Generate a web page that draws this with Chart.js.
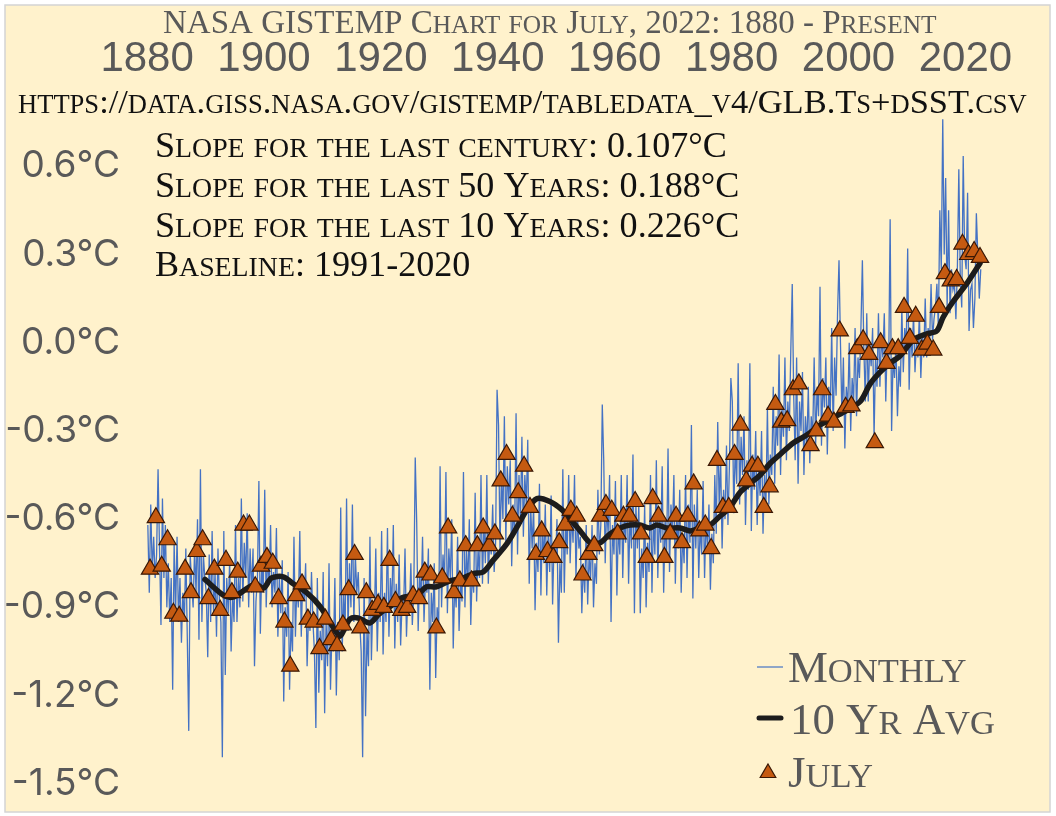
<!DOCTYPE html>
<html><head><meta charset="utf-8">
<script src="https://cdn.jsdelivr.net/npm/chart.js@4"></script>
<style>html,body{margin:0;padding:0;background:#fff}canvas{display:block}</style>
</head><body>
<canvas id="c" width="1056" height="816" style="width:1056px;height:816px"></canvas>
<script>
// ---------- data ----------
const xTickYears = [1880, 1900, 1920, 1940, 1960, 1980, 2000, 2020];
const yTickValues = [-1.5, -1.2, -0.9, -0.6, -0.3, 0.0, 0.3, 0.6];

const julyStartYear = 1880;
const julyValues = [
 -0.77,-0.595,-0.76,-0.67,-0.92,-0.93,-0.77,-0.85,-0.71,-0.67,
 -0.87,-0.77,-0.91,-0.74,-0.85,-0.78,-0.62,-0.62,-0.83,-0.76,
 -0.73,-0.75,-0.87,-0.95,-1.10,-0.86,-0.82,-0.94,-0.95,-1.04,
 -0.94,-1.01,-1.03,-0.96,-0.84,-0.72,-0.97,-0.85,-0.91,-0.89,
 -0.90,-0.74,-0.88,-0.91,-0.90,-0.86,-0.87,-0.78,-0.79,-0.97,
 -0.80,-0.63,-0.85,-0.81,-0.69,-0.81,-0.69,-0.63,-0.69,-0.65,
 -0.47,-0.38,-0.59,-0.51,-0.42,-0.56,-0.72,-0.64,-0.71,-0.73,
 -0.68,-0.62,-0.57,-0.59,-0.79,-0.72,-0.69,-0.59,-0.55,-0.57,
 -0.65,-0.59,-0.59,-0.54,-0.65,-0.73,-0.53,-0.59,-0.73,-0.65,
 -0.59,-0.68,-0.59,-0.48,-0.64,-0.62,-0.70,-0.40,-0.56,-0.56,
 -0.38,-0.28,-0.47,-0.42,-0.42,-0.56,-0.49,-0.21,-0.27,-0.265,
 -0.16,-0.14,null,-0.35,-0.30,-0.16,-0.25,-0.27,0.04,-0.22,
 -0.215,-0.02,0.01,-0.04,-0.34,0.00,-0.07,-0.02,-0.02,0.12,
 0.015,0.09,-0.025,-0.005,-0.025,0.12,0.235,0.21,0.215,0.335,
 0.30,0.31,0.29
];

const avgYears = [
 1889.9,1893.0,1894.5,1895.9,1898.5,1899.9,1901.3,1903.3,1905.0,1907.3,
 1909.6,1911.9,1913.0,1913.6,1914.7,1916.1,1918.1,1919.8,1921.6,1923.8,
 1926.1,1927.8,1929.5,1931.8,1934.1,1935.8,1937.5,1939.2,1941.5,1943.2,
 1944.9,1946.7,1948.9,1950.9,1952.4,1954.1,1955.8,1957.5,1959.2,1960.9,
 1962.6,1964.3,1966.0,1967.2,1968.9,1971.2,1972.9,1974.6,1976.3,1978.0,
 1979.7,1981.4,1983.1,1984.9,1986.6,1988.3,1990.6,1992.8,1995.1,1997.4,
 1999.7,2002.0,2003.7,2005.4,2007.1,2008.8,2011.1,2013.4,2015.1,2016.2,
 2017.9,2020.2,2022.5
];
const avgValues = [
 -0.805,-0.858,-0.866,-0.852,-0.82,-0.835,-0.80,-0.796,-0.82,-0.85,
 -0.897,-0.97,-0.998,-0.98,-0.94,-0.936,-0.953,-0.92,-0.897,-0.866,
 -0.86,-0.83,-0.83,-0.81,-0.80,-0.785,-0.78,-0.74,-0.685,-0.63,
 -0.57,-0.53,-0.54,-0.567,-0.60,-0.64,-0.68,-0.68,-0.65,-0.63,
 -0.62,-0.62,-0.63,-0.62,-0.63,-0.63,-0.64,-0.63,-0.62,-0.59,
 -0.56,-0.51,-0.48,-0.45,-0.41,-0.38,-0.34,-0.315,-0.28,-0.255,
 -0.23,-0.20,-0.14,-0.10,-0.07,-0.045,0.01,0.03,0.04,0.087,
 0.14,0.20,0.27
];

// monthly anomalies, read as four values per year (one row per year)
const monthly1880s = [
 [-0.62,-0.85,-0.55,-0.78],[-0.66,-0.80,-0.72,-0.43],[-0.70,-0.96,-0.53,-0.80],[-0.62,-0.90,-0.75,-0.95],
 [-0.80,-1.18,-0.68,-0.92],[-0.66,-0.95,-0.80,-1.02],[-0.85,-0.95,-0.70,-1.00],[-1.32,-0.72,-0.82,-0.90],
 [-0.70,-0.85,-0.60,-1.01],[-0.43,-0.95,-0.72,-0.80]];
const monthly1890s = [
 [-0.85,-1.07,-0.72,-0.95],[-0.64,-0.92,-0.78,-1.00],[-0.70,-0.88,-0.95,-1.41],[-0.64,-1.13,-0.80,-0.92],
 [-0.74,-1.05,-0.86,-0.95],[-0.62,-0.95,-0.80,-0.90],[-0.53,-0.88,-0.68,-0.80],[-0.58,-0.90,-0.70,-0.85],
 [-0.70,-1.10,-0.88,-0.80],[-0.47,-0.99,-0.75,-0.85]];
const monthly1900s = [
 [-0.50,-0.90,-0.72,-0.82],[-0.62,-0.90,-0.78,-0.85],[-0.63,-1.00,-0.80,-0.92],[-0.74,-1.22,-0.90,-1.00],
 [-0.78,-1.18,-0.95,-1.05],[-0.66,-1.00,-0.82,-0.90],[-0.64,-1.00,-0.80,-0.88],[-0.75,-1.10,-0.92,-0.98],
 [-0.78,-0.95,-1.05,-1.31],[-0.80,-1.19,-0.98,-1.08]];
const monthly1910s = [
 [-0.78,-1.26,-0.95,-1.10],[-0.75,-1.18,-0.98,-1.05],[-0.80,-1.20,-0.95,-1.08],[-0.56,-1.05,-0.85,-0.98],
 [-0.53,-0.98,-0.75,-0.90],[-0.55,-0.95,-0.72,-0.85],[-0.78,-0.95,-1.05,-1.41],[-0.80,-1.27,-0.98,-1.10],
 [-0.66,-1.08,-0.88,-0.95],[-0.70,-1.05,-0.85,-0.95]];
const monthly1920s = [
 [-0.64,-1.06,-0.85,-0.95],[-0.63,-1.00,-0.80,-0.90],[-0.62,-1.04,-0.82,-0.95],[-0.72,-1.03,-0.88,-0.92],
 [-0.70,-1.00,-0.85,-0.92],[-0.75,-0.96,-0.85,-0.39],[-0.61,-0.98,-0.78,-0.88],[-0.66,-0.95,-0.80,-0.85],
 [-0.70,-1.18,-0.85,-0.95],[-0.75,-1.14,-0.90,-0.98]];
const monthly1930s = [
 [-0.42,-0.90,-0.72,-0.82],[-0.44,-0.92,-0.70,-0.80],[-0.60,-1.04,-0.82,-0.90],[-0.66,-0.98,-0.80,-0.88],
 [-0.44,-0.90,-0.70,-0.82],[-0.60,-0.96,-0.78,-0.85],[-0.51,-0.88,-0.70,-0.80],[-0.45,-0.82,-0.62,-0.75],
 [-0.45,-0.82,-0.65,-0.72],[-0.55,-0.78,-0.68,-0.16]];
const monthly1940s = [
 [-0.28,-0.70,-0.45,-0.60],[-0.25,-0.68,-0.42,-0.55],[-0.40,-0.76,-0.55,-0.65],[-0.24,-0.72,-0.45,-0.60],
 [-0.32,-0.66,-0.45,-0.55],[-0.33,-0.82,-0.55,-0.70],[-0.55,-0.91,-0.68,-0.78],[-0.48,-0.86,-0.62,-0.75],
 [-0.55,-0.86,-0.65,-0.78],[-0.52,-0.89,-0.68,-0.75]];
const monthly1950s = [
 [-0.60,-1.02,-0.75,-0.85],[-0.43,-0.85,-0.60,-0.72],[-0.45,-0.75,-0.58,-0.68],[-0.45,-0.80,-0.58,-0.70],
 [-0.66,-0.92,-0.75,-0.85],[-0.62,-0.89,-0.72,-0.80],[-0.62,-0.90,-0.75,-0.82],[-0.50,-0.72,-0.62,-0.21],
 [-0.40,-0.75,-0.55,-0.65],[-0.45,-0.95,-0.62,-0.72]];
const monthly1960s = [
 [-0.47,-0.86,-0.62,-0.72],[-0.45,-0.80,-0.58,-0.68],[-0.45,-0.82,-0.58,-0.70],[-0.38,-0.92,-0.55,-0.70],
 [-0.55,-0.92,-0.70,-0.80],[-0.55,-0.90,-0.68,-0.78],[-0.45,-0.85,-0.60,-0.72],[-0.40,-0.80,-0.58,-0.68],
 [-0.42,-0.85,-0.60,-0.72],[-0.36,-0.78,-0.55,-0.65]];
const monthly1970s = [
 [-0.45,-0.82,-0.58,-0.70],[-0.50,-0.85,-0.65,-0.75],[-0.45,-0.80,-0.55,-0.68],[-0.28,-0.87,-0.55,-0.70],
 [-0.50,-0.80,-0.62,-0.72],[-0.47,-0.80,-0.60,-0.70],[-0.55,-0.84,-0.65,-0.75],[-0.45,-0.65,-0.27,-0.55],
 [-0.40,-0.70,-0.50,-0.60],[-0.35,-0.62,-0.42,-0.12]];
const monthly1980s = [
 [-0.20,-0.58,-0.35,-0.48],[-0.07,-0.55,-0.32,-0.45],[-0.25,-0.62,-0.40,-0.50],[-0.07,-0.64,-0.38,-0.50],
 [-0.30,-0.62,-0.42,-0.52],[-0.30,-0.65,-0.45,-0.55],[-0.22,-0.55,-0.38,-0.45],[-0.15,-0.48,-0.25,-0.35],
 [-0.04,-0.45,-0.22,-0.32],[-0.05,-0.40,-0.20,-0.30]];
const monthly1990s = [
 [-0.03,0.20,-0.18,-0.40],[-0.05,-0.48,-0.20,-0.30],[-0.10,-0.45,-0.25,-0.35],[-0.15,-0.41,-0.25,-0.32],
 [-0.05,-0.35,-0.15,-0.25],[0.19,-0.35,-0.12,-0.22],[-0.05,-0.38,-0.15,-0.25],[0.05,-0.30,-0.05,-0.18],
 [0.10,0.28,0.00,-0.25],[-0.05,-0.36,-0.15,-0.22]];
const monthly2000s = [
 [0.00,-0.30,-0.12,-0.20],[0.05,-0.25,-0.05,-0.12],[0.05,0.28,-0.02,-0.20],[0.10,-0.20,0.00,-0.08],
 [0.05,-0.32,-0.05,-0.15],[0.10,-0.15,0.02,-0.05],[0.10,-0.20,0.00,-0.08],[0.42,-0.30,-0.05,-0.12],
 [0.00,-0.25,-0.08,-0.15],[0.12,-0.10,0.05,-0.02]];
const monthly2010s = [
 [0.32,-0.16,0.05,-0.05],[0.10,-0.10,0.00,-0.05],[0.10,-0.12,0.02,-0.05],[0.15,-0.05,0.05,0.00],
 [0.20,0.01,0.08,0.12],[0.20,0.05,0.45,0.25],[0.76,0.30,0.56,0.12],[0.45,0.10,0.25,0.18],
 [0.20,0.08,0.25,0.59],[0.22,0.12,0.635,0.30]];
const monthly2020s = [
 [0.25,0.51,0.04,0.18],[0.20,0.05,0.15,0.44],[0.30,0.15,0.25]];

const monthlyDecades = [
 [1880, monthly1880s],[1890, monthly1890s],[1900, monthly1900s],[1910, monthly1910s],
 [1920, monthly1920s],[1930, monthly1930s],[1940, monthly1940s],[1950, monthly1950s],
 [1960, monthly1960s],[1970, monthly1970s],[1980, monthly1980s],[1990, monthly1990s],
 [2000, monthly2000s],[2010, monthly2010s],[2020, monthly2020s]];

const titleText = 'NASA GISTEMP Chart for July, 2022: 1880 - Present';
const urlText = 'https://data.giss.nasa.gov/gistemp/tabledata_v4/GLB.Ts+dSST.csv';
const noteLines = [
 'Slope for the last century: 0.107°C',
 'Slope for the last 50 Years: 0.188°C',
 'Slope for the last 10 Years: 0.226°C',
 'Baseline: 1991-2020'];
const legendLabels = ['Monthly', '10 Yr Avg', 'July'];

// ---------- build points ----------
const monthlyPoints = [];
monthlyDecades.forEach(([start, rows]) => rows.forEach((row, i) =>
  row.forEach((v, q) => monthlyPoints.push({x: start + i + (q + 0.5) / 4, y: v}))));
const julyPoints = julyValues.map((v, i) => ({x: julyStartYear + i + 0.5, y: v}));
const avgPoints = avgYears.map((yr, i) => ({x: yr, y: avgValues[i]}));

// ---------- style ----------
const BG = '#FFF2CC';
const GRAY = '#595959';
const BLUE = '#4472C4';
const AVG = '#1c1c1c';
const TRI_FILL = '#C55A11';
const TRI_EDGE = '#3a1805';
const SERIF = '"Liberation Serif", "DejaVu Serif", serif';
const SC = 0.77;

function runsOf(text) {
  const runs = [];
  for (const ch of text) {
    const small = /[a-z]/.test(ch);
    const c = small ? ch.toUpperCase() : ch;
    if (runs.length && runs[runs.length - 1].small === small) runs[runs.length - 1].s += c;
    else runs.push({small, s: c});
  }
  return runs;
}
function scWidth(ctx, text, size) {
  let w = 0;
  for (const r of runsOf(text)) {
    ctx.font = (r.small ? size * SC : size) + 'px ' + SERIF;
    w += ctx.measureText(r.s).width;
  }
  return w;
}
function fitSize(ctx, text, width) { return 100 * width / scWidth(ctx, text, 100); }
function drawSC(ctx, text, x, y, size, color) {
  ctx.fillStyle = color; ctx.textAlign = 'left'; ctx.textBaseline = 'alphabetic';
  let cx = x;
  for (const r of runsOf(text)) {
    ctx.font = (r.small ? size * SC : size) + 'px ' + SERIF;
    ctx.fillText(r.s, cx, y);
    cx += ctx.measureText(r.s).width;
  }
}
function tri(ctx, x, y, r) {
  ctx.beginPath();
  for (let k = 0; k < 3; k++) {
    const a = -Math.PI / 2 + k * 2 * Math.PI / 3;
    const px = x + Math.cos(a) * r, py = y + Math.sin(a) * r;
    if (k === 0) ctx.moveTo(px, py); else ctx.lineTo(px, py);
  }
  ctx.closePath();
  ctx.fillStyle = TRI_FILL; ctx.fill();
  ctx.strokeStyle = TRI_EDGE; ctx.lineWidth = 1.2; ctx.stroke();
}

const decor = {
  id: 'decor',
  beforeDraw(chart) {
    const ctx = chart.ctx;
    ctx.save();
    ctx.fillStyle = '#ffffff'; ctx.fillRect(0, 0, chart.width, chart.height);
    ctx.fillStyle = BG; ctx.fillRect(5, 5, 1045, 807);
    ctx.strokeStyle = '#d4d4d4'; ctx.lineWidth = 1.5; ctx.strokeRect(5, 5, 1045, 807);
    ctx.restore();
  },
  afterDraw(chart) {
    const ctx = chart.ctx;
    ctx.save();
    drawSC(ctx, titleText, 163, 33, fitSize(ctx, titleText, 774), GRAY);
    drawSC(ctx, urlText, 18, 113, fitSize(ctx, urlText, 1009), '#111111');
    const ns = fitSize(ctx, noteLines[0], 572);
    const noteBase = [157, 197, 237, 276];
    noteLines.forEach((t, i) => drawSC(ctx, t, 155, noteBase[i], ns, '#111111'));
    const ls = fitSize(ctx, legendLabels[1], 205);
    ctx.lineCap = 'butt';
    ctx.strokeStyle = BLUE; ctx.lineWidth = 1.2;
    ctx.beginPath(); ctx.moveTo(757, 667); ctx.lineTo(783, 667); ctx.stroke();
    ctx.strokeStyle = AVG; ctx.lineWidth = 5; ctx.lineCap = 'round';
    ctx.beginPath(); ctx.moveTo(759, 718); ctx.lineTo(781, 718); ctx.stroke();
    tri(ctx, 768, 773, 9);
    drawSC(ctx, legendLabels[0], 788, 682, ls, GRAY);
    drawSC(ctx, legendLabels[1], 790, 734, ls, GRAY);
    drawSC(ctx, legendLabels[2], 788, 787, ls, GRAY);
    ctx.restore();
  }
};

const PX_PER_YEAR = 5.845;
const AREA_LEFT = 130, AREA_RIGHT = 1010;
const xMin = 1880 - (147.1 - AREA_LEFT) / PX_PER_YEAR;
const xMax = xMin + (AREA_RIGHT - AREA_LEFT) / PX_PER_YEAR;

new Chart(document.getElementById('c'), {
  type: 'line',
  data: {
    datasets: [
      {label: 'July', data: julyPoints, showLine: false, order: 0,
       pointStyle: 'triangle', pointRadius: 10, pointHoverRadius: 10,
       pointBackgroundColor: TRI_FILL, pointBorderColor: TRI_EDGE, pointBorderWidth: 1.2},
      {label: '10 Yr Avg', data: avgPoints, order: 1, borderColor: AVG, borderWidth: 5.5,
       pointRadius: 0, tension: 0.3, borderCapStyle: 'round', borderJoinStyle: 'round', fill: false},
      {label: 'Monthly', data: monthlyPoints, order: 2, borderColor: BLUE, borderWidth: 1.3,
       pointRadius: 0, tension: 0, fill: false}
    ]
  },
  options: {
    responsive: false, animation: false, events: [],
    layout: {padding: {left: 0, top: 0, right: 1056 - AREA_RIGHT, bottom: 23}},
    plugins: {legend: {display: false}, tooltip: {enabled: false}, title: {display: false}},
    scales: {
      x: {type: 'linear', position: 'top', min: xMin, max: xMax,
          grid: {display: false, drawTicks: false}, border: {display: false},
          afterBuildTicks: s => { s.ticks = xTickYears.map(v => ({value: v})); },
          afterFit: s => { s.height = 110.4; },
          ticks: {color: GRAY, font: {family: '"Liberation Sans", Arial, sans-serif', size: 42},
                  padding: 26, maxRotation: 0, autoSkip: false, callback: v => String(v)}},
      y: {type: 'linear', min: -1.5, max: 0.79,
          grid: {display: false, drawTicks: false}, border: {display: false},
          afterBuildTicks: s => { s.ticks = yTickValues.map(v => ({value: v})); },
          afterFit: s => { s.width = AREA_LEFT; },
          ticks: {color: GRAY, font: {family: 'Inter, "Open Sans", sans-serif', size: 37},
                  padding: 10, autoSkip: false, callback: v => v.toFixed(1) + '°C'}}
    }
  },
  plugins: [decor]
});
</script>
</body></html>
